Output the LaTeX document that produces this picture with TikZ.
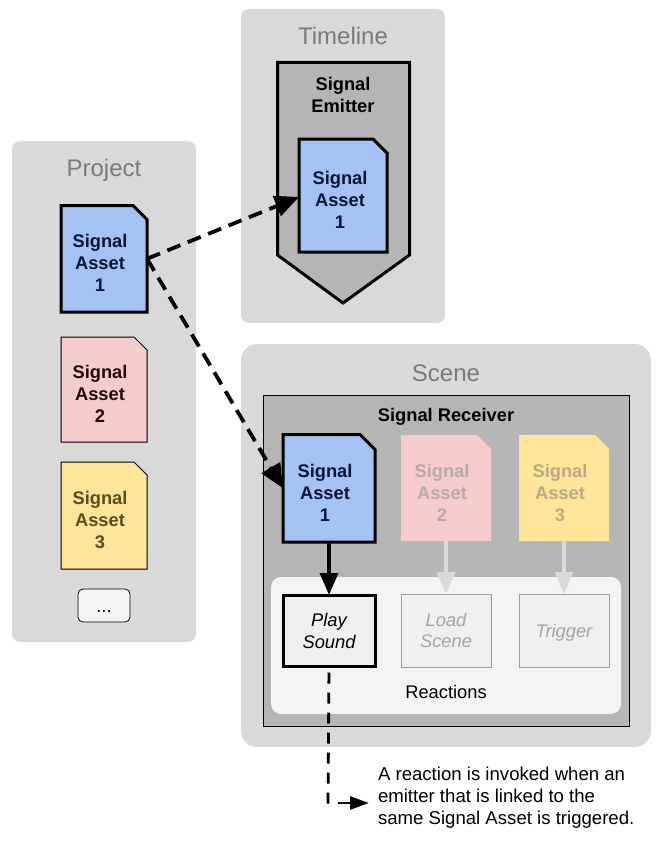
\documentclass[tikz,border=0pt]{standalone}
\usepackage{fontspec}
\setmainfont{Liberation Sans}
\usetikzlibrary{arrows.meta}
\definecolor{panel}{HTML}{D9D9D9}
\definecolor{midgray}{HTML}{B5B5B5}
\definecolor{lightpanel}{HTML}{F3F3F3}
\definecolor{reactfill}{HTML}{EFEFEF}
\definecolor{assetblue}{HTML}{A4C2F4}
\definecolor{assetpink}{HTML}{F4CCCC}
\definecolor{assetyellow}{HTML}{FFE599}
\definecolor{titlegray}{HTML}{7A7A7A}
\definecolor{ghostedge}{HTML}{9C9C9C}
\definecolor{ghosttext}{HTML}{A3A3A6}
\definecolor{ghostpink}{HTML}{B8A8AA}
\definecolor{ghostyellow}{HTML}{B8AB84}
\definecolor{ghostarrow}{HTML}{D9D9D9}
\definecolor{bluetext}{HTML}{0A1433}
\definecolor{pinktext}{HTML}{200A0A}
\definecolor{yellowtext}{HTML}{594C20}
\newcommand{\fbig}{\fontsize{24}{28}\selectfont}
\newcommand{\fmain}{\fontsize{18.3}{21.7}\selectfont}
\newcommand{\fnote}{\fontsize{18.6}{22}\selectfont}
% name, x1, y1, x2, y2, style, text
\newcommand{\boxat}[7]{\node[shapebox,#6,minimum width={(#4)-(#2)},minimum height={(#5)-(#3)}] (#1) at ({((#2)+(#4))/2},{((#3)+(#5))/2}) {#7};}
% name, x1, y1, x2, y2, cut, style
\newcommand{\docat}[7]{%
  \draw[#7] (#2,#3) -- ({(#4)-(#6)},#3) -- (#4,{(#3)+(#6)}) -- (#4,#5) -- (#2,#5) -- cycle;
  \node[shapebox,draw=none,fill=none,minimum width={(#4)-(#2)},minimum height={(#5)-(#3)}] (#1) at ({((#2)+(#4))/2},{((#3)+(#5))/2}) {};}
\tikzset{
  shapebox/.style={rectangle,inner sep=0pt,outer sep=0pt,align=center},
  panelbox/.style={fill=panel,rounded corners=8pt},
  scenebox/.style={fill=panel,rounded corners=16pt},
  titletext/.style={inner sep=0pt,font=\fbig,text=titlegray},
  assettext/.style={inner sep=0pt,align=center,font=\fmain\bfseries},
  strongdoc/.style={line width=3pt,draw=black,line join=miter},
  thindoc/.style={line width=1pt,draw=black},
  linkarrow/.style={line width=3.8pt,dash pattern=on 14pt off 8pt,-{Triangle[length=24pt,width=21pt]}},
  flowarrow/.style={line width=3.6pt,-{Triangle[length=22pt,width=18pt]}},
  ghostflow/.style={line width=3.2pt,draw=ghostarrow,-{Triangle[length=22pt,width=18pt,fill=ghostarrow]}},
  notedash/.style={line width=2.8pt,dash pattern=on 11pt off 9pt,dash phase=14pt},
  notearrow/.style={line width=2.8pt,-{Triangle[length=19pt,width=13pt]}},
}
\begin{document}
\begin{tikzpicture}[x=1pt,y=-1pt]
\useasboundingbox (0,0) rectangle (662,848);
% panels
\boxat{project}{12}{141}{196}{642}{panelbox}{}
\boxat{timeline}{241}{9}{445}{323}{panelbox}{}
\boxat{scene}{241}{344}{651}{747}{scenebox}{}
\node[titletext] (projecttitle) at (104,170) {Project};
\node[titletext] (timelinetitle) at (343,36) {Timeline};
\node[titletext] (scenetitle) at (446,373) {Scene};
% emitter
\draw[fill=midgray,line width=3pt,draw=black,line join=miter] (277.5,62.5) -- (409.5,62.5) -- (409.5,255) -- (343,303) -- (277.5,255) -- cycle;
\node[assettext] (emittertext) at (343,95) {Signal\\Emitter};
\docat{emitterdoc}{299}{139}{387}{252}{14}{strongdoc,fill=assetblue}
\node[assettext,text=bluetext] (emitterdoctext) at (340,200) {Signal\\Asset\\1};
% project assets
\docat{pdoca}{61}{205.5}{147}{312}{14}{strongdoc,fill=assetblue}
\node[assettext,text=bluetext] (pdocatext) at (100,263) {Signal\\Asset\\1};
\docat{pdocb}{61}{337}{147}{442}{13}{thindoc,fill=assetpink}
\node[assettext,text=pinktext] (pdocbtext) at (100,394) {Signal\\Asset\\2};
\docat{pdocc}{61}{462}{147}{569}{13}{thindoc,fill=assetyellow}
\node[assettext,text=yellowtext] (pdocctext) at (100,520) {Signal\\Asset\\3};
\boxat{more}{78}{589}{130}{622}{draw=black,line width=.8pt,fill=lightpanel,rounded corners=5pt,font=\fmain}{\rule{0pt}{14pt}...}
% receiver
\boxat{receiver}{263}{395}{629}{726}{draw=black,line width=1pt,fill=midgray}{}
\node[assettext] (receivertitle) at (446,417) {Signal Receiver};
\boxat{reactions}{271}{577}{621}{714}{fill=lightpanel,rounded corners=10pt}{}
\node[inner sep=0pt,font=\fmain] (reactionstext) at (446,692) {Reactions};
% receiver assets
\docat{rdoca}{283}{434.5}{375}{542}{15}{strongdoc,fill=assetblue}
\node[assettext,text=bluetext] (rdocatext) at (325,493) {Signal\\Asset\\1};
\docat{rdocb}{401}{435}{491}{541}{14}{fill=assetpink,draw=none}
\node[assettext,text=ghostpink] (rdocbtext) at (442,493) {Signal\\Asset\\2};
\docat{rdocc}{519}{435}{609}{541}{14}{fill=assetyellow,draw=none}
\node[assettext,text=ghostyellow] (rdocctext) at (560,493) {Signal\\Asset\\3};
% reaction boxes
\boxat{play}{283}{595}{375}{666.5}{draw=black,line width=3pt,fill=reactfill,font=\fmain\itshape}{Play\\Sound}
\boxat{load}{401}{594}{491}{667}{draw=ghostedge,line width=1pt,fill=reactfill,font=\fmain\itshape,text=ghosttext}{Load\\Scene}
\boxat{trigger}{519}{594}{609}{667}{draw=ghostedge,line width=1pt,fill=reactfill,font=\fmain\itshape,text=ghosttext}{\rule{0pt}{17pt}Trigger}
% connectors
\draw[linkarrow] (pdoca.east) -- ([yshift=-1.5pt]emitterdoc.west);
\draw[linkarrow] (pdoca.east) -- (rdoca.west);
\draw[flowarrow] (rdoca.south) -- (play.north);
\draw[ghostflow] (rdocb.south) -- (load.north);
\draw[ghostflow] (rdocc.south) -- (trigger.north);
\node[inner sep=0pt,outer sep=0pt,anchor=north west,align=left,font=\fnote] (note) at (378,767) {A reaction is invoked when an\\emitter that is linked to the\\same Signal Asset is triggered.};
\coordinate (notecorner) at (328,804);
\coordinate (notestart) at (338,803);
\coordinate (notetip) at (369,803);
\draw[notedash] (play.south) -- (notecorner);
\draw[notearrow] (notestart) -- (notetip);
\end{tikzpicture}
\end{document}
